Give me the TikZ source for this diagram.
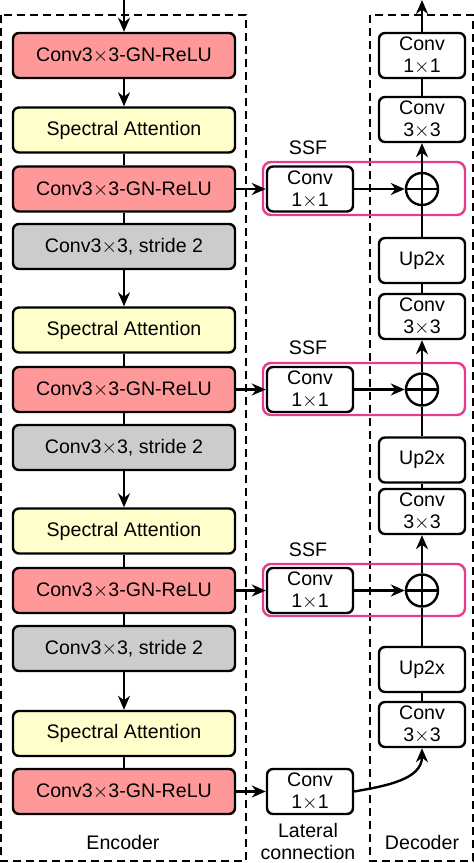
\documentclass[tikz,border=0pt]{standalone}
\usepackage{fontspec}
\setmainfont{Liberation Sans}
\usetikzlibrary{arrows.meta}
\definecolor{redblk}{RGB}{255,153,153}
\definecolor{yelblk}{RGB}{255,255,204}
\definecolor{grayblk}{RGB}{204,204,204}
\definecolor{ssfpink}{RGB}{230,60,140}
\begin{document}
\begin{tikzpicture}[x=0.5pt,y=-0.5pt,line width=1.2pt,>={Stealth[length=7pt,width=6pt]},
    font=\fontsize{9.8}{11}\selectfont,
    enc/.style={draw,rounded corners=3pt,minimum width=111pt,minimum height=22.5pt,inner sep=0pt},
    dec/.style={draw,rounded corners=3pt,minimum width=43pt,minimum height=22.5pt,inner sep=0pt,align=center,fill=white},
    add/.style={draw,circle,minimum size=16pt,inner sep=0pt,fill=white,
        path picture={\draw (path picture bounding box.north) -- (path picture bounding box.south)
        (path picture bounding box.west) -- (path picture bounding box.east);}},
    box/.style={dashed,dash pattern=on 4pt off 2.5pt}]
    \useasboundingbox (0,0) rectangle (474,863);
    \draw[box] (1,15) rectangle (246,861);
    \draw[box] (370,15) rectangle (473,861);
    \draw[ssfpink,rounded corners=4pt] (263,162) rectangle (465,215);
    \draw[ssfpink,rounded corners=4pt] (263,363) rectangle (465,415);
    \draw[ssfpink,rounded corners=4pt] (263,564) rectangle (465,616);
    % encoder
    \node[enc,fill=redblk] (cgr1) at (124,55.5) {Conv3$\times$3-GN-ReLU};
    \node[enc,fill=yelblk] (sa1) at (124,130) {Spectral Attention};
    \node[enc,fill=redblk] (cgr2) at (124,189) {Conv3$\times$3-GN-ReLU};
    \node[enc,fill=grayblk] (cs1) at (124,246.5) {Conv3$\times$3, stride 2};
    \node[enc,fill=yelblk] (sa2) at (124,330) {Spectral Attention};
    \node[enc,fill=redblk] (cgr3) at (124,389.5) {Conv3$\times$3-GN-ReLU};
    \node[enc,fill=grayblk] (cs2) at (124,447.5) {Conv3$\times$3, stride 2};
    \node[enc,fill=yelblk] (sa3) at (124,531) {Spectral Attention};
    \node[enc,fill=redblk] (cgr4) at (124,590.5) {Conv3$\times$3-GN-ReLU};
    \node[enc,fill=grayblk] (cs3) at (124,648.5) {Conv3$\times$3, stride 2};
    \node[enc,fill=yelblk] (sa4) at (124,733.5) {Spectral Attention};
    \node[enc,fill=redblk] (cgr5) at (124,791.5) {Conv3$\times$3-GN-ReLU};
    % lateral
    \node (ssft1) at (308,148) {SSF};
    \node (ssft2) at (308,348) {SSF};
    \node (ssft3) at (308,550) {SSF};
    \node[dec] (ssf1) at (310,189) {Conv\\1$\times$1};
    \node[dec] (ssf2) at (310,389.5) {Conv\\1$\times$1};
    \node[dec] (ssf3) at (310,590.5) {Conv\\1$\times$1};
    \node[dec] (lat) at (310,791.5) {Conv\\1$\times$1};
    % decoder
    \node[dec] (c11) at (422,55.5) {Conv\\1$\times$1};
    \node[dec] (d33a) at (422,119.5) {Conv\\3$\times$3};
    \node[add] (add1) at (422,189) {};
    \node[dec] (up1) at (422,260.5) {Up2x};
    \node[dec] (d33b) at (422,316.5) {Conv\\3$\times$3};
    \node[add] (add2) at (422,389.5) {};
    \node[dec] (up2) at (422,460) {Up2x};
    \node[dec] (d33c) at (422,511.5) {Conv\\3$\times$3};
    \node[add] (add3) at (422,590.5) {};
    \node[dec] (up3) at (422,669.5) {Up2x};
    \node[dec] (d33d) at (422,724.5) {Conv\\3$\times$3};
    \node (enclab) at (123,842) {Encoder};
    \node[align=center] (latlab) at (308,841) {Lateral\\connection};
    \node (declab) at (422,842) {Decoder};
    \coordinate (in) at (124,0);
    \coordinate (out) at (422,0);
    % connections
    \draw[->] (in) -- (cgr1);
    \draw[->] (cgr1) -- (sa1);
    \draw (sa1) -- (cgr2);
    \draw (cgr2) -- (cs1);
    \draw[->] (cs1) -- (sa2);
    \draw (sa2) -- (cgr3);
    \draw (cgr3) -- (cs2);
    \draw[->] (cs2) -- (sa3);
    \draw (sa3) -- (cgr4);
    \draw (cgr4) -- (cs3);
    \draw[->] (cs3) -- (sa4);
    \draw (sa4) -- (cgr5);
    \draw[->] (cgr2) -- (ssf1);
    \draw[->] (cgr3) -- (ssf2);
    \draw[->] (cgr4) -- (ssf3);
    \draw[->] (cgr5) -- (lat);
    \draw[->] (ssf1) -- (add1);
    \draw[->] (ssf2) -- (add2);
    \draw[->] (ssf3) -- (add3);
    \draw[->] (lat.east) to[out=10,in=-90] (d33d.south);
    \draw (d33d) -- (up3);
    \draw (up3) -- (add3);
    \draw[->] (add3) -- (d33c);
    \draw (d33c) -- (up2);
    \draw (up2) -- (add2);
    \draw[->] (add2) -- (d33b);
    \draw (d33b) -- (up1);
    \draw (up1) -- (add1);
    \draw[->] (add1) -- (d33a);
    \draw (d33a) -- (c11);
    \draw[->] (c11) -- (out);
\end{tikzpicture}
\end{document}
